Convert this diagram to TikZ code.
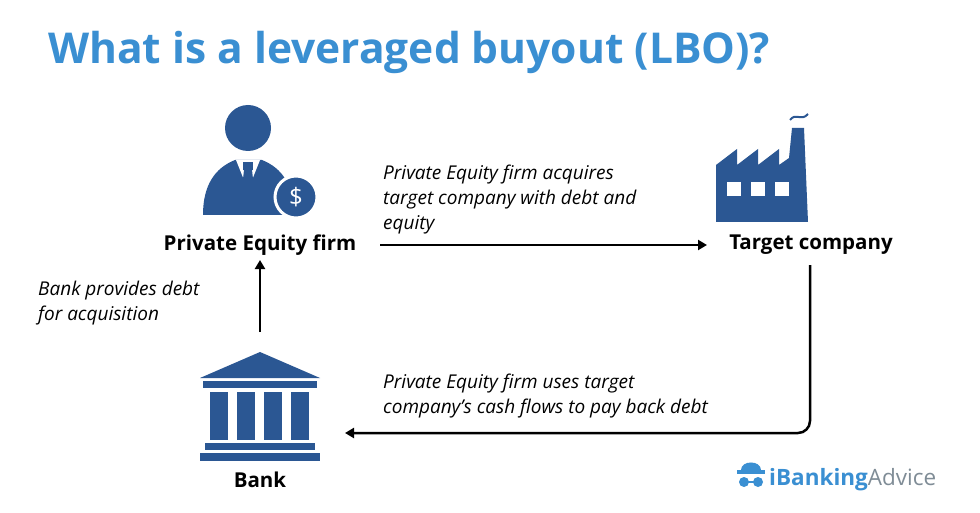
\documentclass[tikz,border=0pt]{standalone}
\usepackage{fontspec}
\setmainfont{Open Sans}
\usetikzlibrary{arrows.meta}
\definecolor{ttl}{HTML}{3A8FD2}
\definecolor{ico}{HTML}{2B5793}
\definecolor{gry}{HTML}{7F8C96}
\begin{document}
\begin{tikzpicture}[x=1pt,y=-1pt,
  lbl/.style={font=\fontsize{20.5}{24}\selectfont\bfseries,inner sep=0},
  note/.style={font=\fontsize{19}{25}\selectfont\itshape,align=left,inner sep=0,anchor=north west},
  conn/.style={line width=2.5pt,-{Triangle[length=9pt,width=10pt]}}]
\useasboundingbox[fill=white] (0,0) rectangle (980,513);
\node[anchor=west,text=ttl,font=\fontsize{42.5}{48}\selectfont\bfseries,inner sep=0] (title) at (48,52) {What is a leveraged buyout (LBO)?};
% person icon
\fill[ico] (248,128) circle (23);
\fill[ico] (203,215) .. controls (203,185) and (215,168) .. (235,160) -- (262,160) .. controls (282,168) and (294,185) .. (294,215) -- cycle;
\fill[white] (236,160) -- (248,190) -- (260,160) -- cycle;
\fill[ico] (243,162) rectangle (253,170);
\fill[ico] (244,170) -- (252,170) -- (254,188) -- (248,195) -- (242,188) -- cycle;
\fill[ico,draw=white,line width=3pt] (296,197) circle (21);
\node[text=white,font=\fontsize{24}{24}\selectfont,inner sep=0] (dol) at (296,197) {\$};
\node[lbl] (pe) at (260,245) {Private Equity firm};
% factory
\fill[ico] (716,222) -- (716,165) -- (737,149) -- (737,165) -- (758,149) -- (758,165) -- (779,149) -- (779,165) -- (789,158) -- (792,128) -- (804,128) -- (808,222) -- cycle;
\draw[ico,line width=2pt] (790,120) .. controls (796,112) and (801,122) .. (808,114);
\foreach \xx in {727,751,775}{\fill[white] (\xx,182) rectangle ++(14,14);}
\node[lbl] (tc) at (811,245) {Target company};
% bank
\fill[ico] (200,378) -- (260,352) -- (320,378) -- cycle;
\fill[ico] (203,381) rectangle (317,388);
\foreach \xx in {210,237,264,291}{\fill[ico] (\xx,392) rectangle ++(18,48);}
\fill[ico] (205,443) rectangle (315,450);
\fill[ico] (200,453) rectangle (320,461);
\node[lbl] (bk) at (260,480) {Bank};
% connectors
\coordinate (b0) at (260,332);
\coordinate (c1) at (810,265);
\coordinate (c2) at (345,433);
\draw[conn] (380,245) -- (tc.west -| 707,245);
\draw[conn] (b0) -- (260,260);
\draw[conn,rounded corners=12pt] (c1) -- (810,433) -- (c2);
% notes
\node[note] (n1) at (383,165) {Private Equity firm acquires\\target company with debt and\\equity};
\node[note] (n2) at (38,281) {Bank provides debt\\for acquisition};
\node[note] (n3) at (383,374) {Private Equity firm uses target\\company’s cash flows to pay back debt};
% logo
\fill[ttl] (737,470) rectangle (765,474);
\fill[ttl] (741,470) .. controls (741,460) and (761,460) .. (761,470) -- cycle;
\fill[ttl] (744,482) circle (5); \fill[ttl] (758,482) circle (5);
\fill[ttl] (744,481) rectangle (758,483);
\node[anchor=west,inner sep=0,font=\fontsize{22.5}{24}\selectfont] (logo) at (769,480) {\textcolor{ttl}{\bfseries iBanking}\textcolor{gry}{Advice}};
\end{tikzpicture}
\end{document}
